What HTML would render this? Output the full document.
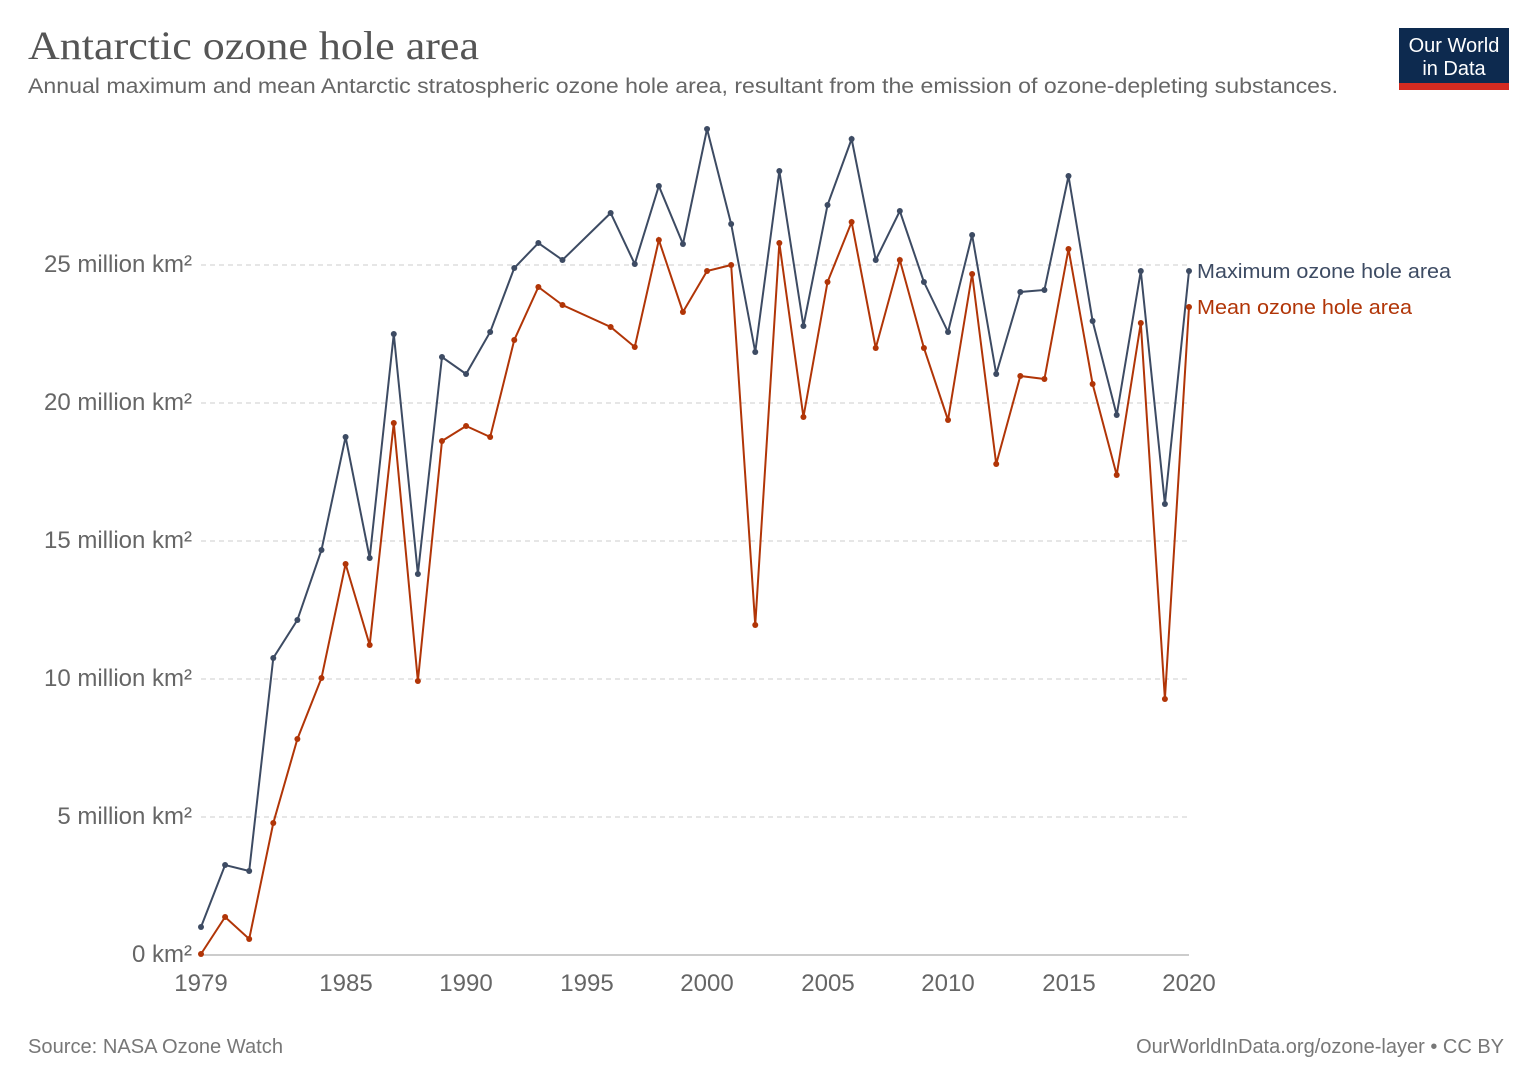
<!DOCTYPE html>
<html><head><meta charset="utf-8"><style>
body{margin:0;background:#fff;}
svg text{font-family:"Liberation Sans",sans-serif;}
</style></head><body>
<svg id="s" width="1536" height="1084" xmlns="http://www.w3.org/2000/svg">
<text x="28" y="59" style="font-family:'Liberation Serif',serif" font-size="40" fill="#555" textLength="451" lengthAdjust="spacingAndGlyphs">Antarctic ozone hole area</text>
<text x="28" y="93" font-size="21" fill="#666" textLength="1310" lengthAdjust="spacingAndGlyphs">Annual maximum and mean Antarctic stratospheric ozone hole area, resultant from the emission of ozone-depleting substances.</text>
<rect x="1399" y="28" width="110" height="55" fill="#0d2a4f"/>
<rect x="1399" y="83" width="110" height="7" fill="#d42b21"/>
<text x="1454" y="52" font-size="20" fill="#fff" text-anchor="middle">Our World</text>
<text x="1454" y="75" font-size="20" fill="#fff" text-anchor="middle">in Data</text>
<g stroke="#ccc" stroke-dasharray="5,4" stroke-width="1">
<line x1="201" x2="1189" y1="265" y2="265"/><line x1="201" x2="1189" y1="403" y2="403"/><line x1="201" x2="1189" y1="541" y2="541"/><line x1="201" x2="1189" y1="679" y2="679"/><line x1="201" x2="1189" y1="817" y2="817"/>
</g>
<line x1="201" x2="1189" y1="955" y2="955" stroke="#999"/>
<g font-size="24" fill="#666" text-anchor="end">
<text x="192" y="272">25 million km²</text><text x="192" y="410">20 million km²</text><text x="192" y="548">15 million km²</text><text x="192" y="686">10 million km²</text><text x="192" y="824">5 million km²</text><text x="192" y="962">0 km²</text>
</g>
<g font-size="24" fill="#666" text-anchor="middle">
<text x="201" y="991">1979</text><text x="346" y="991">1985</text><text x="466" y="991">1990</text><text x="587" y="991">1995</text><text x="707" y="991">2000</text><text x="828" y="991">2005</text><text x="948" y="991">2010</text><text x="1069" y="991">2015</text><text x="1189" y="991">2020</text>
</g>
<text x="1197" y="278" font-size="20.5" fill="#3d4b63" textLength="254" lengthAdjust="spacingAndGlyphs">Maximum ozone hole area</text>
<text x="1197" y="314" font-size="20.5" fill="#b13507" textLength="215" lengthAdjust="spacingAndGlyphs">Mean ozone hole area</text>
<text x="28" y="1053" font-size="20" fill="#777" textLength="255" lengthAdjust="spacingAndGlyphs">Source: NASA Ozone Watch</text>
<text x="1504" y="1053" font-size="20" fill="#777" text-anchor="end">OurWorldInData.org/ozone-layer • CC BY</text>
</svg>
<script>
var yrs=[1979,1980,1981,1982,1983,1984,1985,1986,1987,1988,1989,1990,1991,1992,1993,1994,1996,1997,1998,1999,2000,2001,2002,2003,2004,2005,2006,2007,2008,2009,2010,2011,2012,2013,2014,2015,2016,2017,2018,2019,2020];
var mx=[927,865,871,658,620,550,437,558,334,574,357,374,332,268,243,260,213,264,186,244,129,224,352,171,326,205,139,260,211,282,332,235,374,292,290,176,321,415,271,504,271];
var mn=[954,917,939,823,739,678,564,645,423,681,441,426,437,340,287,305,327,347,240,312,271,265,625,243,417,282,222,348,260,348,420,274,464,376,379,249,384,475,323,699,307];
var s=document.getElementById('s'),ns='http://www.w3.org/2000/svg';
function draw(d,c){var p=[];for(var i=0;i<d.length;i++){var x=201+(yrs[i]-1979)*988/41;p.push(x+','+d[i]);var ci=document.createElementNS(ns,'circle');ci.setAttribute('cx',x);ci.setAttribute('cy',d[i]);ci.setAttribute('r',3);ci.setAttribute('fill',c);s.appendChild(ci);}
var pl=document.createElementNS(ns,'polyline');pl.setAttribute('points',p.join(' '));pl.setAttribute('fill','none');pl.setAttribute('stroke',c);pl.setAttribute('stroke-width',2);s.insertBefore(pl,s.querySelector('circle'));}
draw(mx,'#3d4b63');draw(mn,'#b13507');
</script>
</body></html>
